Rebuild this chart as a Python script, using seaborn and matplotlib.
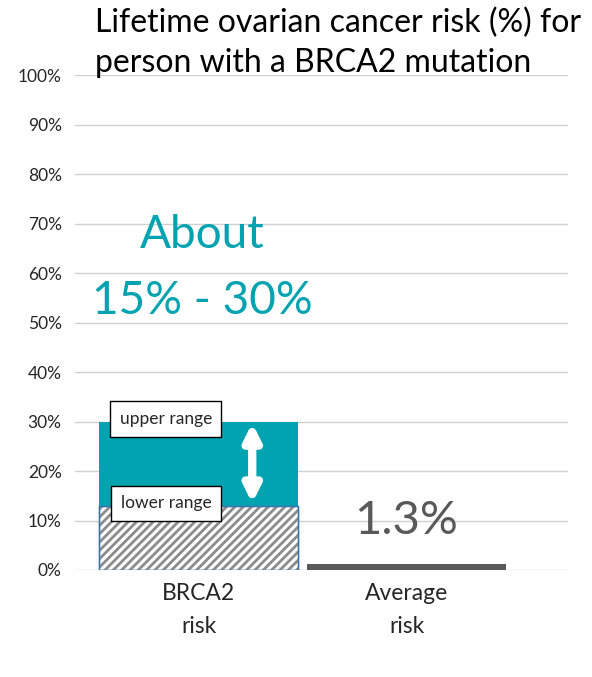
import seaborn as sb
import matplotlib.pyplot as plt
import pandas as pd

categories = ["BRCA2\nrisk", "Average\nrisk"]
upper_risk = [30, 1.3]
lower_risk = [13, 0]
yticks = list(range(0, 101, 10))

TEAL = "#00A3AF"
GREY = "#595959"

sb.set_style("white")
plt.rcParams["font.family"] = ["Lato", "DejaVu Sans"]
plt.rcParams["hatch.color"] = "#8c8c8c"
plt.rcParams["hatch.linewidth"] = 2.0

fig = plt.figure(figsize=(5.92, 6.77), dpi=100)
ax = fig.add_axes([75 / 592, 1 - 570 / 677, 493 / 592, 495 / 677])

df = pd.DataFrame({"group": categories, "upper": upper_risk, "lower": lower_risk})

# full bars: teal for BRCA2, dark grey for the average
sb.barplot(data=df, x="group", y="upper", hue="group", saturation=1,
           palette=[TEAL, GREY], width=0.957, legend=False, ax=ax,
           linewidth=0, zorder=2)
# hatched lower range on top of the BRCA2 bar
low = ax.bar(df["group"].iloc[:1], df["lower"].iloc[:1], width=0.957,
             color="white", edgecolor="#8c8c8c", hatch="////", zorder=3)
for p in low:
    ax.add_patch(plt.Rectangle(p.get_xy(), p.get_width(), p.get_height(),
                               fill=False, edgecolor="#2E75B6", lw=1, zorder=4))

ax.set_xlim(-0.594, 1.776)
ax.set_ylim(0, 100)
ax.set_yticks(yticks)
ax.set_yticklabels([f"{t}%" for t in yticks], fontsize=12.5)
ax.tick_params(axis="x", labelsize=16.5, pad=6)
ax.tick_params(axis="y", pad=6)
for lab in ax.get_xticklabels():
    lab.set_linespacing(1.7)
ax.grid(axis="y", color="#D0D0D0", lw=1, zorder=0)
ax.set_axisbelow(True)
for s in ax.spines.values():
    s.set_visible(False)
ax.set_xlabel("")
ax.set_ylabel("")

fig.text(95 / 592, 1 - 8 / 677, "Lifetime ovarian cancer risk (%) for\nperson with a BRCA2 mutation",
         ha="left", va="top", fontsize=23, linespacing=1.4, color="black")

ax.text(0.02, 61.0, "About\n15% - 30%", ha="center", va="center",
        fontsize=33, color=TEAL, linespacing=1.68)
ax.text(1.0, 10, "1.3%", ha="center", va="center", fontsize=34, color=GREY)

box = dict(boxstyle="square,pad=0.55", fc="white", ec="black", lw=1)
ax.text(-0.158, 30.5, "upper range", ha="center", va="center", fontsize=12.5, bbox=box, zorder=5)
ax.text(-0.155, 13.5, "lower range", ha="center", va="center", fontsize=12.5, bbox=box, zorder=5)

ax.annotate("", xy=(0.258, 13.5), xytext=(0.258, 29.7),
            arrowprops=dict(arrowstyle="<|-|>", color="white", lw=6,
                            mutation_scale=24, shrinkA=0, shrinkB=0), zorder=5)

plt.savefig("out.png", dpi=100)
